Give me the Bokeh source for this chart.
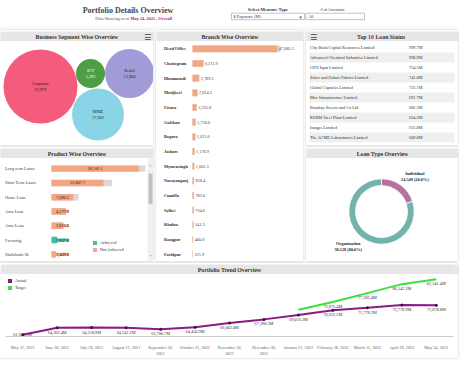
import math
from bokeh.plotting import figure
from bokeh.layouts import column, row
from bokeh.models import Range1d, FactorRange, ColumnDataSource, Legend, LegendItem
from bokeh.core.properties import value
from bokeh.embed import file_html
from bokeh.resources import INLINE

# ------------------------------------------------------------------ data
report_date = "May 24, 2022"
report_scope = "Overall"
measure_type = "$ Exposure (M)"
account_count = "50"

segments = ["Corporate", "SCF", "Retail", "MME"]
segment_values = [22979, 1292, 13904, 17602]

branches = ["Head Office", "Chattogram", "Dhanmondi", "Motijheel", "Uttara",
            "Gulshan", "Bogura", "Jashore", "Mymensingh", "Narayanganj",
            "Cumilla", "Sylhet", "Khulna", "Rangpur", "Faridpur"]
branch_values = [47885.3, 6211.9, 3789.2, 2814.2, 2335.8, 1718.0, 1621.6,
                 1170.9, 1001.3, 858.4, 783.0, 764.6, 541.3, 400.8, 221.9]
branch_targets = [49600.0, 6211.9, 3789.2, 2814.2, 2335.8, 1718.0, 1621.6,
                  1170.9, 1001.3, 858.4, 783.0, 764.6, 541.3, 400.8, 221.9]

products = ["Long term Loans", "Short Term Loans", "Home Loan", "Auto Loan",
            "Auto Lease", "Factoring", "Shahrbadu SL"]
product_actual = [28181.1, 16807.7, 7090.2, 4577.7, 3815.3, 1847.0, 1409.8]
product_target = [30300.0, 19600.0, 8750.0, 4700.0, 3900.0, 1700.0, 1500.0]

top_names = ["City Bank Capital Resources Limited",
             "Advanced Chemical Industries Limited",
             "GPH Ispat Limited",
             "Zaber and Zubair Fabrics Limited",
             "Global Capsules Limited",
             "Max Infrastructure Limited",
             "Bombay Sweets and Co Ltd",
             "KSRM Steel Plant Limited",
             "Images Limited",
             "The ACME Laboratories Limited"]
top_values = [999.7, 998.9, 754.5, 741.8, 725.1, 691.7, 682.2, 624.2, 615.8, 609.8]

loan_types = ["Individual", "Organization"]
loan_values = [14549, 58128]

trend_dates = ["May 31, 2021", "June 30, 2021", "July 28, 2021", "August 31, 2021",
               "September 30,\n2021", "October 31, 2021", "November 30,\n2021",
               "December 30,\n2021", "January 31, 2022", "February 28, 2022",
               "March 31, 2022", "April 28, 2022", "May 24, 2022"]
trend_actual = [61659.1, 64302.4, 64318.9, 64241.2, 63708.7, 64450.9, 66003.0,
                67390.5, 69016.3, 70832.5, 71778.2, 72778.9, 72678.8]
trend_target_dates = ["January 31, 2022", "February 28, 2022", "March 31, 2022",
                      "April 28, 2022", "May 24, 2022"]
trend_target = [71000.0, 73875.4, 77203.4, 80542.3, 82341.4]

# ------------------------------------------------------------------ style
SERIF = value("Liberation Serif")
SYM = value("DejaVu Sans")
FS = "4.3px"
TITLE_FS = "5.8px"
INK = "#333333"
HEAD_BG = "#e6e6e6"
ACCENT = "#b0177a"
ORANGE = "#f4a582"
TEAL = "#3fbfa4"
GREY_BAR = "#d9d9d9"
ACT = "#8b1b84"
TGT = "#3ce03c"
SHADOW = {"box-shadow": "0 0 2px rgba(0,0,0,0.25)"}


def blank(w, h, xr, yr):
    p = figure(width=w, height=h, x_range=xr, y_range=yr, title=None,
               toolbar_location=None, output_backend="svg", min_border=0,
               x_axis_location=None, y_axis_location=None)
    p.outline_line_color = None
    p.grid.visible = False
    return p


def panel_header(w, title=None):
    p = blank(w, 11, Range1d(0, w), Range1d(0, 11))
    p.background_fill_color = HEAD_BG
    p.border_fill_color = HEAD_BG
    if title:
        p.text(x=[w / 2], y=[5.5], text=[title], text_align="center",
               text_baseline="middle", text_font=SERIF, text_font_style="bold",
               text_font_size=TITLE_FS, text_color=INK)
    return p


# ------------------------------------------------------------------ page header
HW, HH = 458, 28
ph = blank(HW, HH, Range1d(0, HW), Range1d(0, HH))
ph.quad(left=[0], right=[HW], bottom=[0], top=[0.8], fill_color="#dddddd", line_color=None)
ph.text(x=[127.5], y=[18], text=["Portfolio Details Overview"], text_align="center",
        text_baseline="middle", text_font=SERIF, text_font_style="bold",
        text_font_size="8px", text_color="#444444")
ph.text(x=[128.5], y=[10.3], text=["Data Showing as of"], text_align="right",
        text_baseline="middle", text_font=SERIF, text_font_size=FS, text_color="#555555")
ph.text(x=[130], y=[10.3], text=[f"{report_date} , {report_scope}"], text_align="left",
        text_baseline="middle", text_font=SERIF, text_font_style="bold",
        text_font_size=FS, text_color=ACCENT)
ph.text(x=[267.5], y=[19.4], text=["Select Measure Type"], text_align="center",
        text_baseline="middle", text_font=SERIF, text_font_style="bold",
        text_font_size="4.6px", text_color=INK)
ph.text(x=[332], y=[19.4], text=["# of Accounts"], text_align="center",
        text_baseline="middle", text_font=SERIF, text_font_size=FS, text_color=INK)
ph.quad(left=[231, 305.5], right=[304, 364], bottom=[8.8, 8.8], top=[15.3, 15.3],
        fill_color="white", line_color="#aaaaaa", line_width=0.7)
ph.text(x=[233], y=[12], text=[measure_type], text_align="left", text_baseline="middle",
        text_font=SERIF, text_font_size=FS, text_color=INK)
ph.text(x=[300], y=[12], text=["\u25be"], text_align="center", text_baseline="middle",
        text_font=SYM, text_font_size="5px", text_color="#555555")
ph.text(x=[308.5], y=[12], text=[account_count], text_align="left", text_baseline="middle",
        text_font=SERIF, text_font_size=FS, text_color=INK)

# ------------------------------------------------------------------ business segment bubbles
BW, BH = 153, 104
hb = panel_header(BW, "Business Segment Wise Overview")
hb.text(x=[BW - 6], y=[5.5], text=["\u2630"], text_align="center", text_baseline="middle",
        text_font=SYM, text_font_size="8px", text_color="#444444")
bubble_x = [40, 90, 129, 97.5]
bubble_y = [59, 72, 72, 31]
bubble_r = [37, 14.5, 24.5, 26]
bubble_fill = ["#f45b7c", "#4f9d45", "#a19bd8", "#89d4e6"]
bubble_ink = ["#222222", "#ffffff", "#222222", "#222222"]
pbus = blank(BW, BH, Range1d(0, BW), Range1d(0, BH))
bsrc = ColumnDataSource(dict(x=bubble_x, y=bubble_y, r=bubble_r, fill=bubble_fill,
                             ink=bubble_ink,
                             label=[f"{s}\n{v:,}" for s, v in zip(segments, segment_values)]))
pbus.circle(x="x", y="y", radius="r", fill_color="fill", line_color=None, source=bsrc)
pbus.text(x="x", y="y", text="label", text_color="ink", text_align="center",
          text_baseline="middle", text_font=SERIF, text_font_size=FS, source=bsrc,
          text_line_height=1.1)

# ------------------------------------------------------------------ product wise
PW, PH = 147, 103
hp = panel_header(PW + 6, "Product Wise Overview")
p_left_px = 51
p_max = 31000
p_scale = p_max / (PW - p_left_px)
pprod = blank(PW, PH, Range1d(-p_left_px * p_scale, p_max), FactorRange(factors=products[::-1]))
pprod.min_border_top = 3
pprod.hbar(y=products, left=0, right=product_target, height=0.45,
           fill_color=GREY_BAR, line_color=None)
ach = [a >= t for a, t in zip(product_actual, product_target)]
src_a = ColumnDataSource(dict(y=[p for p, f in zip(products, ach) if f],
                              r=[v for v, f in zip(product_actual, ach) if f]))
src_n = ColumnDataSource(dict(y=[p for p, f in zip(products, ach) if not f],
                              r=[v for v, f in zip(product_actual, ach) if not f]))
ra = pprod.hbar(y="y", left=0, right="r", height=0.45, fill_color=TEAL, line_color=None, source=src_a)
rn = pprod.hbar(y="y", left=0, right="r", height=0.45, fill_color=ORANGE, line_color=None, source=src_n)
pprod.text(x=-p_left_px * p_scale, y=products, text=products, x_offset=4.5,
           text_align="left", text_baseline="middle", text_font=SERIF,
           text_font_size=FS, text_color="#444444")
half_lbl = 11 * p_scale
lsrc = ColumnDataSource(dict(x=[max(v / 2, half_lbl) for v in product_actual], y=products,
                             t=[f"{v:,.1f}" for v in product_actual],
                             bg=[TEAL if f else ORANGE for f in ach]))
pprod.text(x="x", y="y", text="t", source=lsrc, text_align="center", text_baseline="middle",
           text_font=SERIF, text_font_size=FS, text_color="#222222",
           background_fill_color="bg")
leg = Legend(items=[LegendItem(label="Achieved", renderers=[ra]),
                    LegendItem(label="Not Achieved", renderers=[rn])],
             location=(92, 9), glyph_width=5, glyph_height=5, label_height=5,
             label_text_font="Liberation Serif", label_text_font_size=FS,
             label_text_color=INK, label_standoff=3, spacing=2, padding=0, margin=0,
             background_fill_alpha=0, border_line_color=None)
pprod.add_layout(leg)

pscroll = blank(6, PH, Range1d(0, 6), Range1d(0, PH))
pscroll.background_fill_color = "#f1f1f1"
pscroll.border_fill_color = "#f1f1f1"
pscroll.quad(left=[1], right=[5], bottom=[59], top=[90.6], fill_color="#c1c1c1", line_color=None)
pscroll.text(x=[3, 3], y=[97.3, 4.4], text=["\u02c4", "\u02c5"], text_align="center",
             text_baseline="middle", text_font=SYM, text_font_size="5px", text_color="#555555")

# ------------------------------------------------------------------ branch wise
BRW, BRH = 147, 220
hbr = panel_header(BRW, "Branch Wise Overview")
br_left_px, br_right_px = 36, 2
br_max = 61500
br_scale = br_max / (BRW - br_left_px - br_right_px)
pbr = blank(BRW, BRH, Range1d(-br_left_px * br_scale, br_max + br_right_px * br_scale),
            FactorRange(factors=branches[::-1]))
pbr.hbar(y=branches, left=0, right=branch_targets, height=0.45, fill_color=GREY_BAR, line_color=None)
pbr.hbar(y=branches, left=0, right=branch_values, height=0.45, fill_color=ORANGE, line_color=None)
pbr.text(x=-br_left_px * br_scale, y=branches, text=branches, x_offset=7.5,
         text_align="left", text_baseline="middle", text_font=SERIF, text_font_style="bold",
         text_font_size=FS, text_color=INK)
pbr.text(x=branch_values, y=branches, text=[f"{v:,.1f}" for v in branch_values], x_offset=1.5,
         text_align="left", text_baseline="middle", text_font=SERIF,
         text_font_size=FS, text_color="#444444")

# ------------------------------------------------------------------ top 10
TW, TH = 152, 104
htop = panel_header(TW)
htop.text(x=[TW / 2], y=[5.5], text=["Top"], x_offset=-16, text_align="right",
          text_baseline="middle", text_font=SERIF, text_font_style="bold",
          text_font_size=TITLE_FS, text_color=INK)
htop.text(x=[TW / 2], y=[5.5], text=["10"], x_offset=-11.5, text_align="center",
          text_baseline="middle", text_font=SERIF, text_font_style="bold",
          text_font_size=TITLE_FS, text_color=ACCENT)
htop.text(x=[TW / 2], y=[5.5], text=["Loan Status"], x_offset=-7, text_align="left",
          text_baseline="middle", text_font=SERIF, text_font_style="bold",
          text_font_size=TITLE_FS, text_color=INK)
htop.text(x=[7], y=[5.5], text=["\u2630"], text_align="center", text_baseline="middle",
          text_font=SYM, text_font_size="8px", text_color="#444444")
ptop = blank(TW, TH, Range1d(0, TW), FactorRange(factors=top_names[::-1]))
ptop.min_border_top = 1
ptop.min_border_bottom = 3
ptop.hbar(y=top_names[1::2], left=3, right=148, height=1.0, fill_color="#efefef", line_color=None)
ptop.text(x=3.5, y=top_names, text=top_names, text_align="left", text_baseline="middle",
          text_font=SERIF, text_font_size=FS, text_color=INK)
ptop.text(x=116, y=top_names, text=[f"{v:.1f}M" for v in top_values], text_align="right",
          text_baseline="middle", text_font=SERIF, text_font_size=FS, text_color=INK)

# ------------------------------------------------------------------ loan type donut
LW, LH = 152, 103
hloan = panel_header(LW, "Loan Type Overview")
ploan = blank(LW, LH, Range1d(0, LW), Range1d(0, LH))
cx, cy, r_in, r_out = 75, 50, 26, 32.7
total = sum(loan_values)
starts, ends, lx, ly, labels = [], [], [], [], []
acc = 0.0
for name, v in zip(loan_types, loan_values):
    a0 = math.pi / 2 - 2 * math.pi * acc / total
    acc += v
    a1 = math.pi / 2 - 2 * math.pi * acc / total
    starts.append(a0)
    ends.append(a1)
    mid = (a0 + a1) / 2
    c = math.cos(mid)
    lx.append(cx + 43 * c + (8 if c > 0 else -8))
    ly.append(cy + 43 * math.sin(mid))
    labels.append(f"{name}\n{v:,} ({100 * v / total:.1f}%)")
ploan.annular_wedge(x=cx, y=cy, inner_radius=r_in, outer_radius=r_out, start_angle=starts,
                    end_angle=ends, direction="clock", fill_color=["#b5739d", "#72b3ab"],
                    line_color="white", line_width=0.8)
ploan.text(x=lx, y=ly, text=labels, text_align="center", text_baseline="middle",
           text_font=SERIF, text_font_style="bold", text_font_size=FS, text_color="#222222",
           text_line_height=1.2)

# ------------------------------------------------------------------ trend
TRW, TRH = 458, 84
htr = panel_header(TRW, "Portfolio Trend Overview")
y0, y1 = 61000, 83400
pt = figure(width=TRW, height=TRH, x_range=FactorRange(factors=trend_dates),
            y_range=Range1d(y0, y1), title=None, toolbar_location=None,
            output_backend="svg", min_border_left=5, min_border_right=5,
            min_border_top=2, min_border_bottom=0, y_axis_location=None)
pt.grid.visible = False
pt.outline_line_color = None
ax = pt.xaxis[0]
ax.major_label_text_font = "Liberation Serif"
ax.major_label_text_font_size = FS
ax.major_label_text_color = "#666666"
ax.axis_line_color = "#cccccc"
ax.major_tick_line_color = None
ax.minor_tick_line_color = None
ax.major_label_standoff = 2
pt.line(x=trend_dates, y=trend_actual, line_color=ACT, line_width=2)
pt.scatter(x=trend_dates, y=trend_actual, size=3, fill_color="#4a0c46", line_color=None)
pt.line(x=trend_target_dates, y=trend_target, line_color=TGT, line_width=2)
near = (y1 - y0) * 0.06
pt.text(x=trend_dates, y=trend_actual, text=[f"{v:,.1f}M" for v in trend_actual],
        y_offset=[0 if v - y0 < near else 4.5 for v in trend_actual],
        text_align="center", text_baseline="middle", text_font=SERIF,
        text_font_size=FS, text_color=INK)
pt.text(x=trend_target_dates[1:], y=trend_target[1:],
        text=[f"{v:,.1f}M" for v in trend_target[1:]], y_offset=4.5,
        text_align="center", text_baseline="middle", text_font=SERIF,
        text_font_size=FS, text_color=INK)
# zero-area swatches that only feed the legend
r_act = pt.quad(left=trend_dates[:1], right=trend_dates[:1], top=[y0], bottom=[y0],
                fill_color=ACT, line_color=None)
r_tgt = pt.quad(left=trend_dates[:1], right=trend_dates[:1], top=[y0], bottom=[y0],
                fill_color=TGT, line_color=None)
tleg = Legend(items=[LegendItem(label="Actual", renderers=[r_act]),
                     LegendItem(label="Target", renderers=[r_tgt])],
              location="top_left", glyph_width=5, glyph_height=5, label_height=5,
              label_text_font="Liberation Serif", label_text_font_size=FS,
              label_text_color=INK, label_standoff=3, spacing=2, padding=1, margin=2,
              background_fill_alpha=0, border_line_color=None)
pt.add_layout(tleg)

# ------------------------------------------------------------------ layout
bus_panel = column(hb, pbus, spacing=0, styles=SHADOW)
prod_panel = column(hp, row(pprod, pscroll, spacing=0), spacing=0, styles=SHADOW)
br_panel = column(hbr, pbr, spacing=0, styles=SHADOW)
top_panel = column(htop, ptop, spacing=0, styles=SHADOW)
loan_panel = column(hloan, ploan, spacing=0, styles=SHADOW)
tr_panel = column(htr, pt, spacing=0, styles=SHADOW)

main = row(column(bus_panel, prod_panel, spacing=2), br_panel,
           column(top_panel, loan_panel, spacing=2), spacing=3)
page = column(ph, main, tr_panel, spacing=2)

open("out.html", "w").write(file_html(page, INLINE, title="Portfolio Details Overview"))
